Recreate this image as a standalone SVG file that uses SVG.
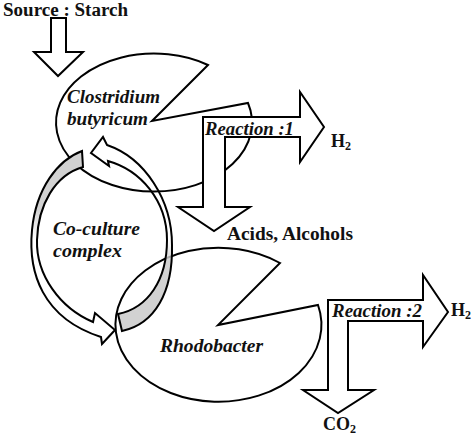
<svg xmlns="http://www.w3.org/2000/svg" width="474" height="439" viewBox="0 0 474 439">
<style>
.shape{fill:#fff;stroke:#000;stroke-width:2;stroke-linejoin:miter}
.blk{fill:#fff;stroke:#000;stroke-width:2;stroke-linejoin:miter}
.lbl{font-family:"Liberation Serif","Times New Roman",serif;font-weight:bold;font-size:18px;fill:#111}
.it{font-family:"Liberation Serif","Times New Roman",serif;font-weight:bold;font-style:italic;font-size:19px;fill:#111}
.sub{font-size:12px}
</style>
<defs>
<linearGradient id="g1" gradientUnits="userSpaceOnUse" x1="0" y1="150" x2="0" y2="250">
<stop offset="0" stop-color="#d2d2d2"/>
<stop offset="0.6" stop-color="#d2d2d2"/>
<stop offset="0.9" stop-color="#d2d2d2" stop-opacity="0"/>
</linearGradient>
<linearGradient id="g2" gradientUnits="userSpaceOnUse" x1="0" y1="335" x2="0" y2="230">
<stop offset="0" stop-color="#d2d2d2"/>
<stop offset="0.7" stop-color="#d2d2d2"/>
<stop offset="0.9" stop-color="#d2d2d2" stop-opacity="0"/>
</linearGradient>
</defs>
<rect width="474" height="439" fill="#fff"/>

<g id="node-source">
<text class="lbl" x="3" y="16" textLength="125" lengthAdjust="spacingAndGlyphs">Source : Starch</text>
</g>

<g id="node-clostridium">
<path class="shape" d="M208,65 A98,69 0 1 0 248,103 L152,121 Z"/>
<text class="it" x="67" y="103" textLength="93" lengthAdjust="spacingAndGlyphs">Clostridium</text>
<text class="it" x="67" y="125" textLength="81" lengthAdjust="spacingAndGlyphs">butyricum</text>
</g>

<g id="node-rhodobacter">
<path class="shape" d="M280,263 A103,77 0 1 0 318,305 L218,325 Z"/>
<text class="it" x="160" y="352" textLength="103" lengthAdjust="spacingAndGlyphs">Rhodobacter</text>
</g>

<g id="node-coculture">
<text class="it" x="53" y="235" textLength="87" lengthAdjust="spacingAndGlyphs">Co-culture</text>
<text class="it" x="53" y="257" textLength="69" lengthAdjust="spacingAndGlyphs">complex</text>
</g>

<g id="connectors">
<path class="blk" d="M51,18 L66,18 L66,52 L83,52 L58,76 L34,52 L51,52 Z"/>
<path class="blk" d="M203,117 L300,117 L300,92 L324,127 L300,162 L300,137 L225,137 L225,207 L250,207 L214,231 L178,207 L203,207 Z"/>
<text class="it" x="205" y="135" textLength="89" lengthAdjust="spacingAndGlyphs">Reaction :1</text>
<path class="blk" d="M328,300 L423,300 L423,275 L448,312 L423,347 L423,321 L348,321 L348,390 L374,390 L338,413 L303,390 L328,390 Z"/>
<text class="it" x="332" y="317" textLength="90" lengthAdjust="spacingAndGlyphs">Reaction :2</text>
<path fill="url(#g1)" stroke="#000" stroke-width="2" stroke-linejoin="miter" d="M82,151 C58,160 36,188 32,230 C28,272 42,318 101,337 L102,344 L115,330 L95,313 L93,322 C60,308 36,275 37,240 C38,205 55,175 83,167 Z"/>
<path fill="url(#g2)" stroke="#000" stroke-width="2" stroke-linejoin="miter" d="M122,331 C155,324 173,292 172,245 C172,200 145,158 107,145 L103,137 L91,153 L109,166 L108,161 C140,170 167,200 167,240 C167,280 148,308 118,314 Z"/>
</g>

<g id="outputs">
<text class="lbl" x="331" y="147">H<tspan class="sub" dy="3">2</tspan></text>
<text class="lbl" x="227" y="240" textLength="126" lengthAdjust="spacingAndGlyphs">Acids, Alcohols</text>
<text class="lbl" x="451" y="316">H<tspan class="sub" dy="3">2</tspan></text>
<text class="lbl" x="323" y="430">CO<tspan class="sub" dy="3">2</tspan></text>
</g>
</svg>
